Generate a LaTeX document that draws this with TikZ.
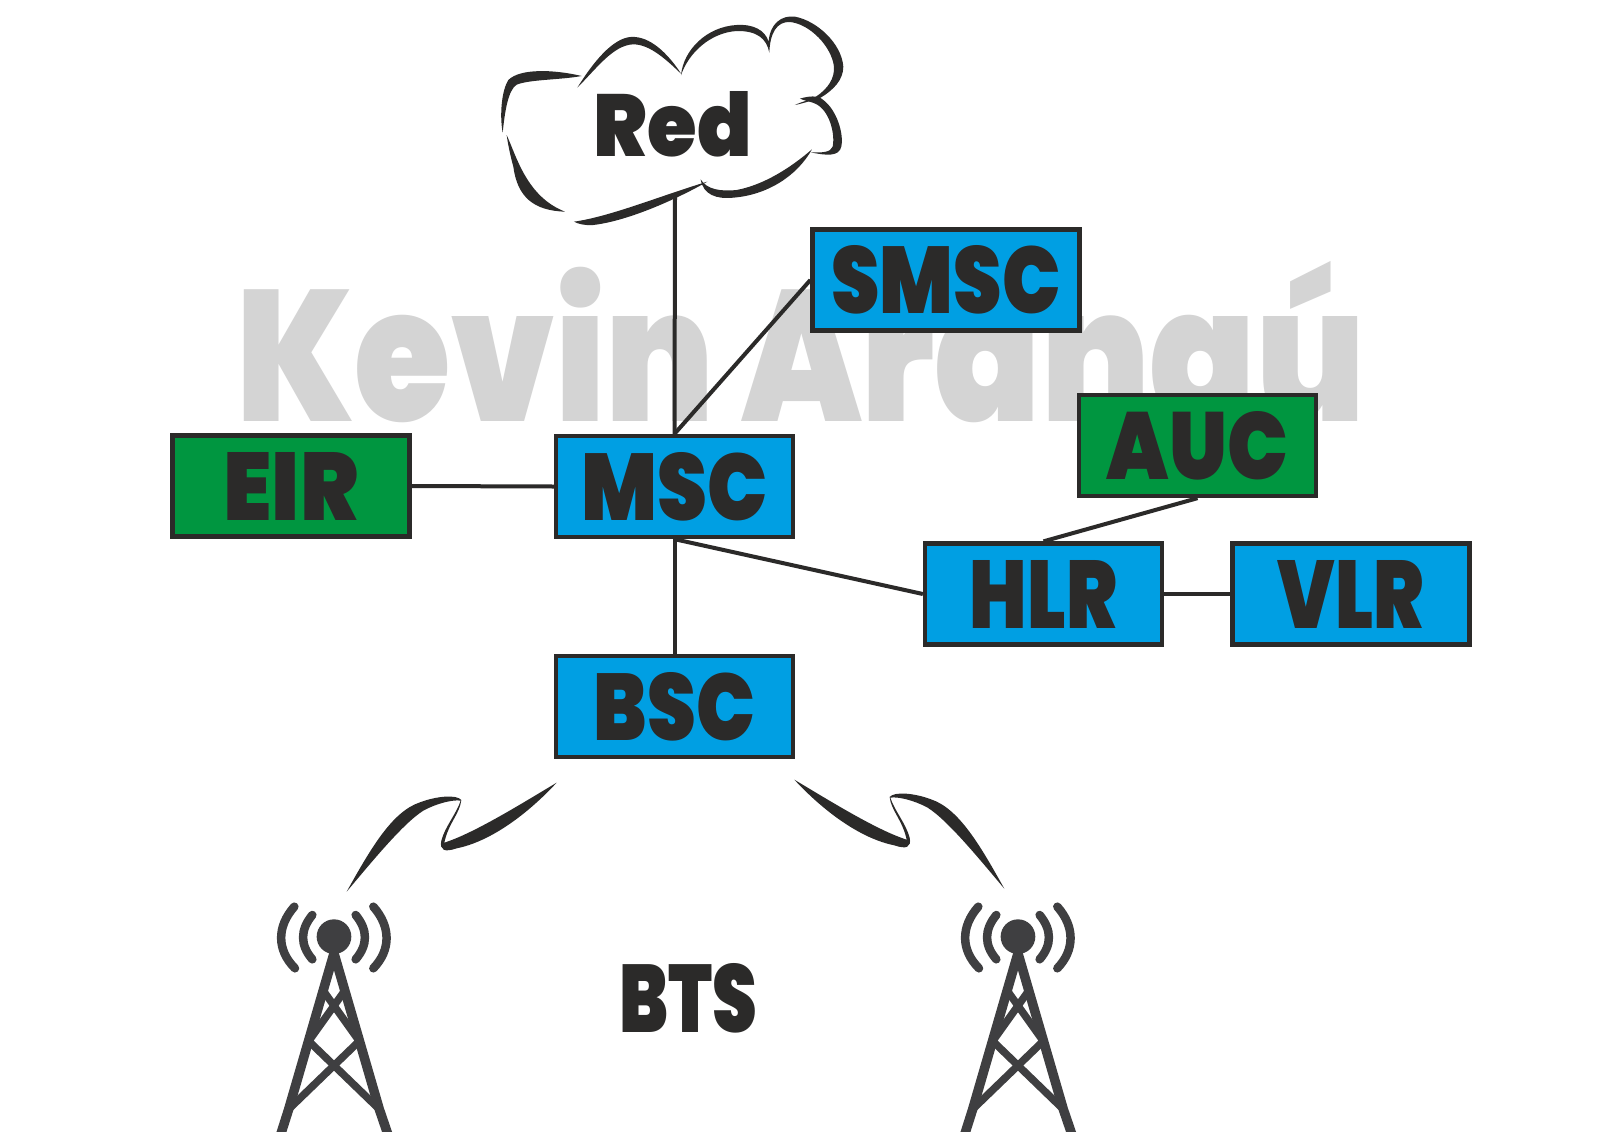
\documentclass[tikz,border=0pt]{standalone}
\usepackage{fontspec}
\usepackage{graphicx}
\setmainfont{Poppins}
\newfontfamily\heavy{Poppins}[UprightFont=* Black]
\newdimen\pxw \pxw=0.05cm
\newcommand\fit[3]{\resizebox{#1\pxw}{#2\pxw}{\heavy #3}}
\definecolor{netblue}{HTML}{009FE3}
\definecolor{netgreen}{HTML}{009640}
\definecolor{ink}{HTML}{2B2A29}
\definecolor{towerink}{HTML}{3F3F41}
\definecolor{wmark}{HTML}{D4D4D4}
\tikzset{
  netbox/.style={draw=ink,line width=4.3\pxw,inner sep=0pt,minimum width=237\pxw,minimum height=101\pxw,text=ink},
  bluebox/.style={netbox,fill=netblue},
  greenbox/.style={netbox,fill=netgreen},
  link/.style={draw=ink,line width=4\pxw},
  freetext/.style={inner sep=0pt,text=ink},
  brush/.style={fill=ink,draw=none},
  zoomed/.style={x=0.05cm/3,y=-0.05cm/3},
  towerleg/.style={draw=towerink,line width=9.5\pxw,line cap=butt,line join=miter},
  towerbar/.style={draw=towerink,line width=7.5\pxw,line cap=butt},
  towerwave/.style={draw=towerink,line width=8.5\pxw,line cap=round},
}
\newcommand\towerpic[1]{%
\begin{scope}[zoomed,shift={(#1*3,770*3)}]
 \fill[towerink] (222,500) circle (52);
 \draw[towerwave] (157,435) .. controls (120,480) and (120,525) .. (157,568);
 \draw[towerwave] (103,410) .. controls (50,470) and (50,540) .. (105,595);
 \draw[towerwave] (287,435) .. controls (324,480) and (324,525) .. (287,568);
 \draw[towerwave] (340,410) .. controls (393,470) and (393,540) .. (340,595);
 \draw[towerleg] (60,1100) -- (86,1018) -- (222,550) -- (358,1018) -- (386,1100);
 \draw[towerbar] (250,668) -- (150,808);
 \draw[towerbar] (194,668) -- (294,808);
 \draw[towerbar] (148,815) -- (352,1012);
 \draw[towerbar] (296,815) -- (92,1012);
\end{scope}}
\newcommand\radiopic{%
 \fill[ink] (260,365) .. controls (330,240) and (395,125) .. (480,97)
   .. controls (530,78) and (590,73) .. (604,90)
   .. controls (600,130) and (565,160) .. (553,218)
   .. controls (640,190) and (770,110) .. (890,38)
   .. controls (800,135) and (690,215) .. (590,235)
   .. controls (555,247) and (538,242) .. (544,212)
   .. controls (555,170) and (590,130) .. (602,92)
   .. controls (580,88) and (530,100) .. (490,122)
   .. controls (430,160) and (340,270) .. (260,365) -- cycle;}
\begin{document}
\begin{tikzpicture}[x=0.05cm,y=-0.05cm]
\useasboundingbox (0,0) rectangle (1600,1131);
\fill[white] (0,0) rectangle (1600,1131);
\clip (0,0) rectangle (1600,1131);
% watermark
\node[inner sep=0pt,anchor=base west,text=wmark] (mark) at (236,421) {\fit{1129}{160}{Kevin Aranaú}};
% cloud
\begin{scope}[zoomed,shift={(480*3,0)}]
 \path[brush] (305,228) .. controls (220,208) and (120,205) .. (85,240)
   .. controls (66,270) and (58,340) .. (68,398)
   .. controls (75,330) and (85,270) .. (110,254)
   .. controls (150,238) and (240,240) .. (305,228) -- cycle;
 \path[brush] (292,263) .. controls (350,170) and (410,105) .. (465,111)
   .. controls (520,115) and (570,170) .. (604,222)
   .. controls (560,180) and (510,133) .. (460,133)
   .. controls (400,135) and (350,205) .. (292,263) -- cycle;
 \path[brush] (603,226) .. controls (610,150) and (680,80) .. (770,75)
   .. controls (820,72) and (855,90) .. (866,125)
   .. controls (870,70) and (905,45) .. (945,50)
   .. controls (1010,62) and (1085,130) .. (1090,200)
   .. controls (1090,240) and (1060,270) .. (1022,293)
   .. controls (1000,300) and (970,310) .. (945,315)
   .. controls (965,305) and (990,300) .. (1008,290)
   .. controls (1045,265) and (1064,235) .. (1062,200)
   .. controls (1055,140) and (990,72) .. (930,66)
   .. controls (890,64) and (870,100) .. (868,158)
   .. controls (860,115) and (830,92) .. (770,93)
   .. controls (690,98) and (625,160) .. (603,226) -- cycle;
 \path[brush] (960,296) .. controls (985,288) and (1015,285) .. (1030,300)
   .. controls (1070,330) and (1092,400) .. (1084,440)
   .. controls (1077,470) and (1040,467) .. (992,457)
   .. controls (1025,458) and (1052,458) .. (1058,440)
   .. controls (1066,400) and (1048,332) .. (1008,312)
   .. controls (995,305) and (975,303) .. (960,296) -- cycle;
 \path[brush] (996,448) .. controls (950,530) and (860,585) .. (760,593)
   .. controls (710,598) and (670,585) .. (662,538)
   .. controls (680,568) and (720,575) .. (770,570)
   .. controls (850,555) and (930,505) .. (996,448) -- cycle;
 \path[brush] (682,545) .. controls (600,592) and (450,662) .. (340,675)
   .. controls (315,677) and (295,672) .. (282,665)
   .. controls (390,650) and (540,588) .. (682,545) -- cycle;
 \path[brush] (80,405) .. controls (110,470) and (140,590) .. (255,635)
   .. controls (160,632) and (112,590) .. (100,500)
   .. controls (92,470) and (85,440) .. (80,405) -- cycle;
\end{scope}
\node[freetext] (red) at (673,124.5) {\fit{158}{65}{Red}};
\coordinate (cloudbot) at (675,196);
% boxes
\node[bluebox] (msc) at (674.5,486.5) {\fit{186}{68}{MSC}};
\node[bluebox] (bsc) at (674.5,706.5) {\fit{161}{68}{BSC}};
\node[greenbox] (eir) at (291,486) {\fit{135}{68}{EIR}};
\node[bluebox,minimum width=267\pxw] (smsc) at (946,280) {\fit{229}{68}{SMSC}};
\node[greenbox] (auc) at (1197.5,445.5) {\fit{181}{68}{AUC}};
\node[bluebox] (hlr) at (1043.5,594) {\fit{147}{68}{HLR}};
\node[bluebox] (vlr) at (1351,594) {\fit{146}{68}{VLR}};
\node[freetext] (bts) at (688,998.5) {\fit{138}{69}{BTS}};
% connectors
\draw[link] (cloudbot) -- (msc.north);
\draw[link] (smsc.west) -- (msc.north);
\draw[link] (eir.east) -- (msc.west);
\draw[link] (msc.south) -- (bsc.north);
\draw[link] (msc.south) -- (hlr.west);
\draw[link] (hlr.north) -- (auc.south);
\draw[link] (hlr.east) -- (vlr.west);
% radio links
\begin{scope}[zoomed,shift={(260*3,770*3)}]\radiopic\end{scope}
\begin{scope}[zoomed,xscale=-1,shift={(-1091*3,767*3)}]\radiopic\end{scope}
% towers
\towerpic{260}
\towerpic{944}
\end{tikzpicture}
\end{document}
